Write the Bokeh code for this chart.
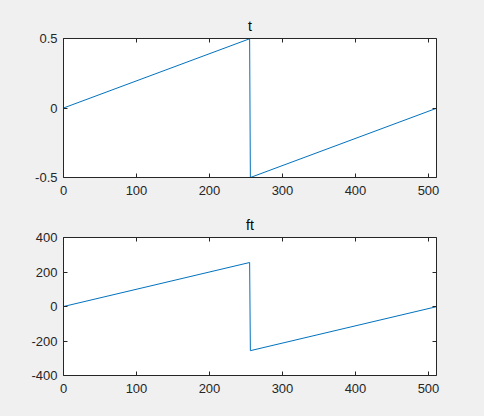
from bokeh.plotting import figure
from bokeh.layouts import column
from bokeh.models import LinearAxis, FixedTicker, Range1d, CustomJSTickFormatter
from bokeh.embed import file_html
from bokeh.resources import INLINE

# ---- data ----
sample_index = [0, 255, 256, 511]
t_values = [0.0, 0.498, -0.5, -0.002]
ft_values = [0, 255, -256, -1]

x_ticks = [0, 100, 200, 300, 400, 500]
x_tick_labels = ["0", "100", "200", "300", "400", "500"]
t_ticks = [-0.5, 0, 0.5]
t_tick_labels = ["-0.5", "0", "0.5"]
ft_ticks = [-400, -200, 0, 200, 400]
ft_tick_labels = ["-400", "-200", "0", "200", "400"]
titles = ["t", "ft"]

AX = "#262626"
FONT = "Liberation Sans"
LINE = "#0072BD"
BG = "#f0f0f0"


def style_axis(ax, ticks, labels, show):
    ax.ticker = FixedTicker(ticks=ticks)
    ax.axis_line_color = AX
    ax.axis_line_width = 1
    ax.major_tick_line_color = AX
    ax.major_tick_in = 4
    ax.major_tick_out = 0
    ax.minor_tick_line_color = None
    if show:
        ax.major_label_overrides = {tk: lb for tk, lb in zip(ticks, labels)}
        ax.major_label_text_font = FONT
        ax.major_label_text_font_size = "13px"
        ax.major_label_text_color = AX
    else:
        ax.formatter = CustomJSTickFormatter(code="return ''")
        ax.major_label_standoff = 0


def make(title, yvals, yticks, ylabels, yr, min_top, fh, min_bottom):
    p = figure(frame_width=373, frame_height=fh,
               x_range=Range1d(0, 511), y_range=Range1d(*yr),
               output_backend="svg", toolbar_location=None,
               min_border_left=63, min_border_right=40,
               min_border_top=min_top, min_border_bottom=min_bottom,
               background_fill_color="white", border_fill_color=BG,
               outline_line_color=None, x_axis_type=None, y_axis_type=None,
               title=title)
    p.title.align = "center"
    p.title.text_font = FONT
    p.title.text_font_size = "14px"
    p.title.text_font_style = "normal"
    p.title.text_color = "#000000"

    xb = LinearAxis(); style_axis(xb, x_ticks, x_tick_labels, True)
    xb.major_label_standoff = 8
    xt = LinearAxis(); style_axis(xt, x_ticks, x_tick_labels, False)
    yl = LinearAxis(); style_axis(yl, yticks, ylabels, True)
    yl.major_label_standoff = 6
    yrr = LinearAxis(); style_axis(yrr, yticks, ylabels, False)
    p.add_layout(xb, "below")
    p.add_layout(xt, "above")
    p.add_layout(yl, "left")
    p.add_layout(yrr, "right")

    p.line(sample_index, yvals, line_color=LINE, line_width=1)
    return p


p1 = make(titles[0], t_values, t_ticks, t_tick_labels, (-0.5, 0.5), 38, 139, 31)
p2 = make(titles[1], ft_values, ft_ticks, ft_tick_labels, (-400, 400), 29, 138, 33)

layout = column(p1, p2, spacing=0, styles={"background-color": BG})

template = "{% block preamble %}<style>html, body { background: #f0f0f0; }</style>{% endblock %}"
open("out.html", "w").write(file_html(layout, INLINE, template=template))
